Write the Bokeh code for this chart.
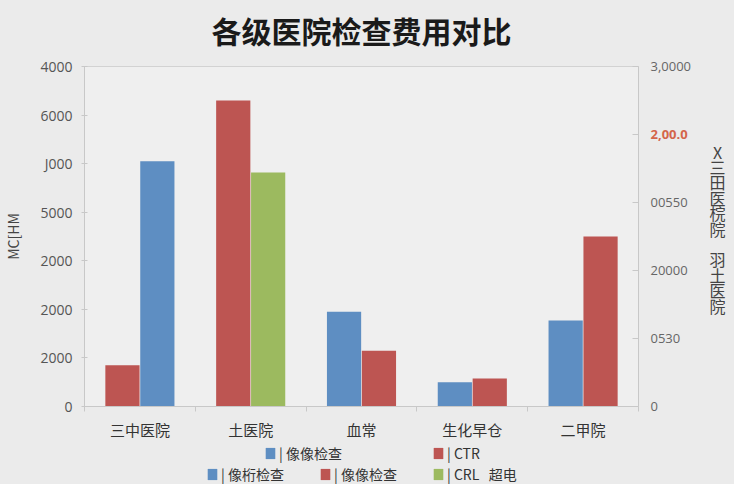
from bokeh.plotting import figure
from bokeh.models import (Range1d, LinearAxis, FixedTicker, ColumnDataSource,
                          Legend, LegendItem)
from bokeh.layouts import column, row
from bokeh.core.properties import value
from bokeh.embed import file_html
from bokeh.resources import INLINE

# ---------------- data ----------------
categories = ["三中医院", "土医院", "血常", "生化早仓", "二甲院"]
left_series = ["CTR", "CTR", "像像检查", "像像检查", "像像检查"]
left_values = [850, 6300, 1950, 500, 1770]
right_series = ["像像检查", "CRL", "CTR", "CTR", "CTR"]
right_values = [5050, 4820, 1150, 575, 3500]

left_ticks = [0, 1000, 2000, 3000, 4000, 5000, 6000, 7000]
left_tick_labels = ["0", "2000", "2000", "2000", "5000", "J000", "6000", "4000"]
right_ticks = [0, 1, 2, 3, 4, 5]
right_tick_labels = ["0", "0530", "20000", "00550", "", "3,0000"]
right_red_label = "2,00.0"
right_red_tick = 4

title_text = "各级医院检查费用对比"
left_axis_title = "MC[HM"
right_axis_title = "X三田医梡院 羽土医院"

legend_row1 = [("像像检查", "blue"), ("CTR", "red")]
legend_row2 = [("像桁检查", "blue"), ("像像检查", "red"), ("CRL   超电", "green")]

colors = {"blue": "#5e8ec2", "red": "#bd5552", "green": "#9cba5f"}
series_color = {"像像检查": colors["blue"], "CTR": colors["red"], "CRL": colors["green"]}

CJK = "Noto Sans CJK SC"
NUM = "Open Sans"
BG = "#ebebeb"
W, H = 734, 484
TITLE_H, LEG_H, SIDE_W = 56, 42, 30
MAIN_H = H - TITLE_H - LEG_H


def strip(width, height, flip_y=True):
    f = figure(width=width, height=height, output_backend="svg",
               toolbar_location=None,
               x_range=Range1d(0, width),
               y_range=Range1d(height, 0) if flip_y else Range1d(0, height),
               x_axis_type=None, y_axis_type=None,
               min_border=0, min_border_left=0, min_border_right=0,
               min_border_top=0, min_border_bottom=0)
    f.border_fill_color = BG
    f.background_fill_color = BG
    f.outline_line_color = None
    f.grid.visible = False
    return f


# ---------------- title strip ----------------
tfig = strip(W, TITLE_H)
tfig.text(x=[361], y=[29], text=[title_text], text_align="center",
          text_baseline="middle", text_font=value(CJK), text_font_size="30px",
          text_font_style="bold", text_color="#1a1a1a")

# ---------------- main figure ----------------
p = figure(width=W - SIDE_W, height=MAIN_H, output_backend="svg",
           toolbar_location=None,
           x_range=Range1d(0, len(categories)), y_range=Range1d(0, 7000),
           min_border_left=84, min_border_right=66, min_border_top=10,
           min_border_bottom=35)
p.extra_y_ranges = {"right": Range1d(0, 5)}
p.border_fill_color = BG
p.background_fill_color = "#efefef"
p.outline_line_color = "#d2d2d2"
p.grid.visible = False

bw = 0.315
xs, tops, cols = [], [], []
for i in range(len(categories)):
    xs.append(i + 0.5 - bw / 2)
    tops.append(left_values[i])
    cols.append(series_color[left_series[i]])
    xs.append(i + 0.5 + bw / 2)
    tops.append(right_values[i])
    cols.append(series_color[right_series[i]])
src = ColumnDataSource(dict(x=xs, top=tops, color=cols))
p.vbar(x="x", top="top", width=bw * 0.98, bottom=0, color="color", source=src,
       line_color=None)

# bottom axis
xa = p.xaxis[0]
xa.ticker = FixedTicker(ticks=[i + 0.5 for i in range(len(categories))],
                        minor_ticks=list(range(len(categories) + 1)))
xa.major_label_overrides = {i + 0.5: c for i, c in enumerate(categories)}
xa.major_tick_line_color = None
xa.minor_tick_line_color = "#c8c8c8"
xa.minor_tick_out = 5
xa.minor_tick_in = 0
xa.axis_line_color = "#c8c8c8"
xa.major_label_text_font = CJK
xa.major_label_text_font_size = "15px"
xa.major_label_text_color = "#333333"
xa.major_label_standoff = 6

# left axis
ya = p.yaxis[0]
ya.ticker = FixedTicker(ticks=left_ticks, minor_ticks=[])
ya.major_label_overrides = {t: l for t, l in zip(left_ticks, left_tick_labels)}
ya.axis_line_color = "#c8c8c8"
ya.major_tick_line_color = "#c8c8c8"
ya.major_tick_in = 3
ya.major_tick_out = 3
ya.major_label_text_font = NUM
ya.major_label_text_font_size = "14px"
ya.major_label_text_color = "#555555"
ya.major_label_standoff = 9
ya.axis_label = left_axis_title
ya.axis_label_text_font = CJK
ya.axis_label_text_font_size = "14px"
ya.axis_label_text_font_style = "normal"
ya.axis_label_text_color = "#444444"
ya.axis_label_standoff = 14

# right axis (gray labels)
ra = LinearAxis(y_range_name="right",
                ticker=FixedTicker(ticks=right_ticks, minor_ticks=[]))
ra.major_label_overrides = {t: l for t, l in zip(right_ticks, right_tick_labels)}
ra.axis_line_color = "#c8c8c8"
ra.major_tick_line_color = "#c8c8c8"
ra.major_tick_in = 6
ra.major_tick_out = 0
ra.major_label_text_font = NUM
ra.major_label_text_font_size = "13px"
ra.major_label_text_color = "#666666"
ra.major_label_standoff = 12
p.add_layout(ra, "right")

# right axis: the single red tick label
ra2 = LinearAxis(y_range_name="right",
                 ticker=FixedTicker(ticks=[right_red_tick], minor_ticks=[]))
ra2.major_label_overrides = {right_red_tick: right_red_label}
ra2.axis_line_color = None
ra2.major_tick_line_color = None
ra2.major_label_text_font = NUM
ra2.major_label_text_font_size = "13px"
ra2.major_label_text_font_style = "bold"
ra2.major_label_text_color = "#d4654a"
ra2.major_label_standoff = -50
p.add_layout(ra2, "right")

# ---------------- right strip: vertical title ----------------
side = strip(SIDE_W, MAIN_H)
chars = list(right_axis_title)
step = 17.5
center_y = 184
ys = [center_y - step * (len(chars) - 1) / 2 + step * i for i in range(len(chars))]
side.text(x=[13] * len(chars), y=ys, text=chars, text_align="center",
          text_baseline="middle", text_font=value(CJK), text_font_size="16px",
          text_color="#444444")

# ---------------- bottom strip: legends ----------------
legfig = strip(W, LEG_H, flip_y=False)
# hidden copy of the bar renderer; legend swatches take their colour from its rows
legbars = legfig.vbar(x="x", top="top", width=bw, bottom=0, color="color",
                      source=src, line_color=None, visible=False)
color_index = {k: cols.index(c) for k, c in colors.items()}


def make_legend(row_items, label_width, spacing, vx, vy):
    items = [LegendItem(label="| " + lab, renderers=[legbars], index=color_index[key])
             for lab, key in row_items]
    lg = Legend(items=items, location=(vx, vy), orientation="horizontal",
                padding=0, margin=0, border_line_color=None,
                background_fill_alpha=0, glyph_width=12, glyph_height=14,
                label_height=20, label_standoff=3, label_width=label_width,
                spacing=spacing, inactive_fill_alpha=0, click_policy="none",
                label_text_font=CJK, label_text_font_size="14px",
                label_text_color="#333333")
    legfig.add_layout(lg, "center")


make_legend(legend_row1, 120, 33, 264, 21)
make_legend(legend_row2, 80, 18, 206, 0)

layout = column(tfig, row(p, side, spacing=0), legfig, spacing=0)
layout.background = BG

open("out.html", "w").write(file_html(layout, INLINE))
